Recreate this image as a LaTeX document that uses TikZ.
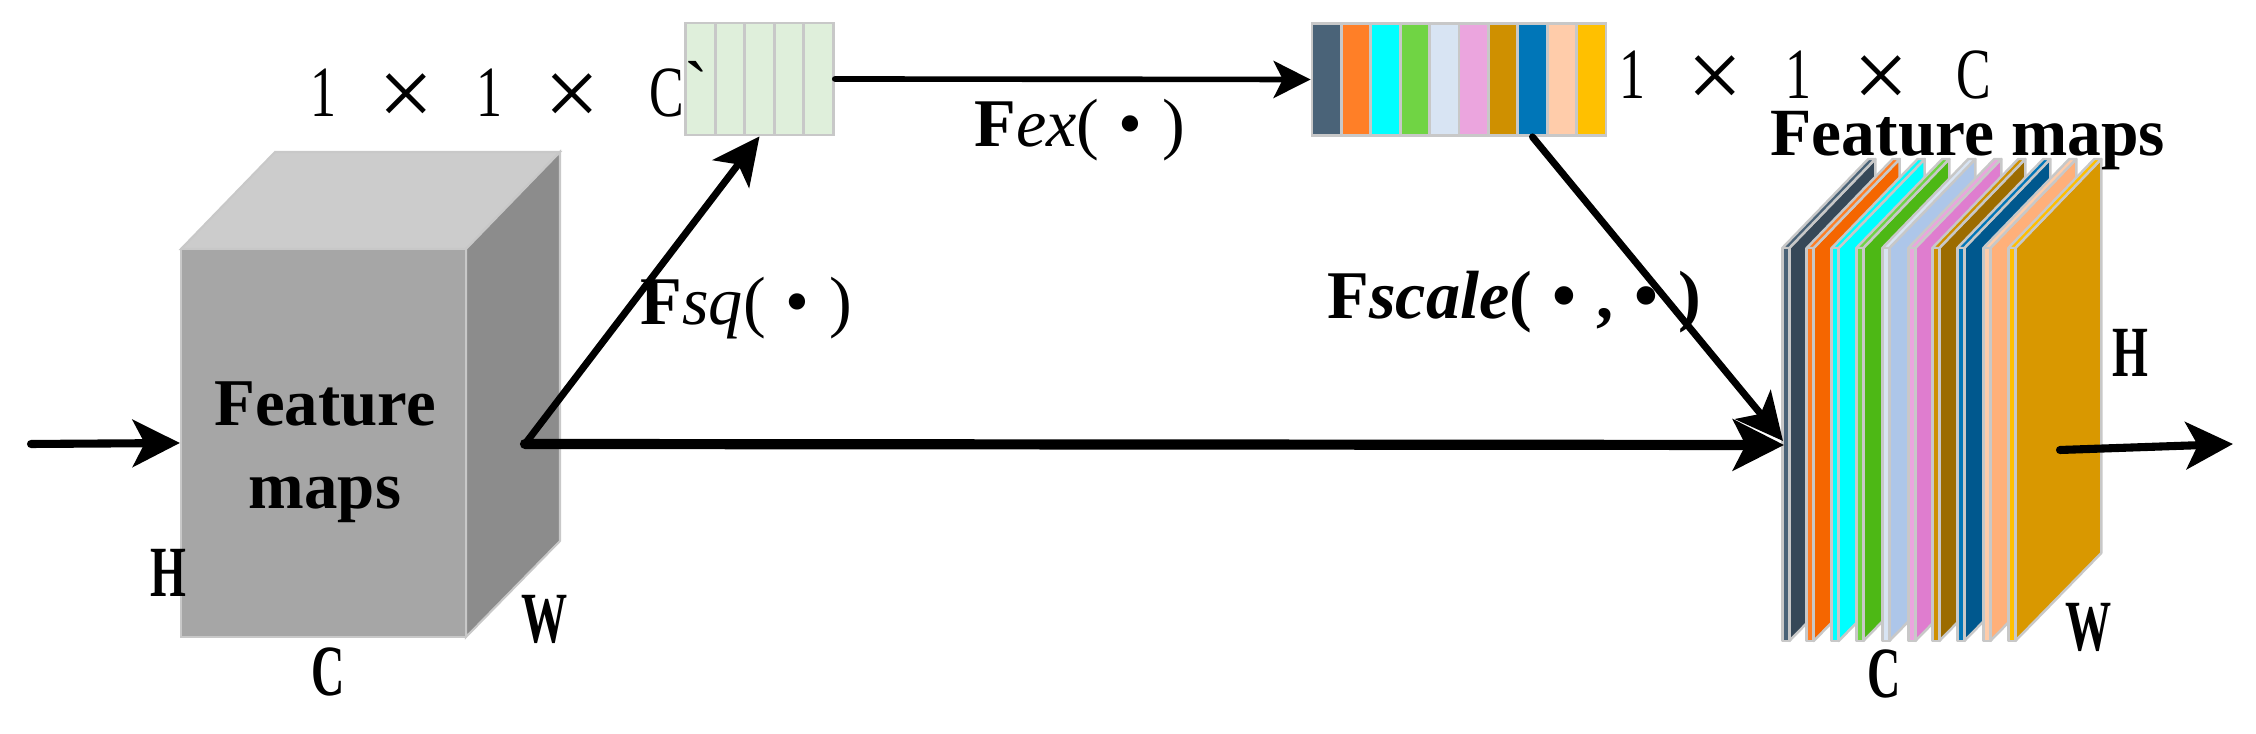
\documentclass[tikz,border=0pt]{standalone}
\usepackage{graphicx}
\usepackage{fontspec}
\setmainfont{Liberation Serif}
\newfontfamily\plainserif{Liberation Serif}
\usetikzlibrary{arrows.meta}

\definecolor{edgegray}{HTML}{C8C8C8}
\definecolor{cubetop}{HTML}{CCCCCC}
\definecolor{cubefront}{HTML}{A6A6A6}
\definecolor{cubeside}{HTML}{8C8C8C}
\definecolor{greencell}{HTML}{DFEFDB}
\definecolor{bar1}{HTML}{4A6378}
\definecolor{bar2}{HTML}{FF7F27}
\definecolor{bar3}{HTML}{00FFFF}
\definecolor{bar4}{HTML}{70D444}
\definecolor{bar5}{HTML}{D8E4F3}
\definecolor{bar6}{HTML}{EBA5DE}
\definecolor{bar7}{HTML}{CF9000}
\definecolor{bar8}{HTML}{0076B8}
\definecolor{bar9}{HTML}{FFCCAA}
\definecolor{bar10}{HTML}{FFC000}
\definecolor{face1}{HTML}{364858}
\definecolor{face2}{HTML}{F56600}
\definecolor{face3}{HTML}{00FFFF}
\definecolor{face4}{HTML}{4DB815}
\definecolor{face5}{HTML}{ADC6E9}
\definecolor{face6}{HTML}{DF7DCF}
\definecolor{face7}{HTML}{9C6C00}
\definecolor{face8}{HTML}{00588E}
\definecolor{face9}{HTML}{FFB07A}
\definecolor{face10}{HTML}{D99800}

\newcommand{\narrow}[1]{\scalebox{.72}[1]{#1}}
\newcommand{\narrowbold}[1]{\scalebox{.64}[1]{\bfseries #1}}
\newcommand{\crossgap}{\hspace{12pt}\smash{\raisebox{-2.8pt}{\fontsize{28}{28}\selectfont ×}}\hspace{12pt}}

\begin{document}
\begin{tikzpicture}[x=0.01cm,y=-0.01cm]
  \tikzset{cell/.style = {shape=rectangle,draw=edgegray,line width=0.8pt,inner sep=0pt,minimum height=1.12cm}}
  \tikzset{plateline/.style = {draw=edgegray,line width=0.7pt,line join=round}}
  \tikzset{thickarrow/.style = {line cap=round,line width=2.3pt,-{Stealth[length=13.4pt,width=13.4pt,inset=3.4pt]}}}
  \tikzset{slimarrow/.style = {line cap=round,line width=2pt,-{Stealth[length=13.4pt,width=13pt,inset=3.4pt]}}}
  \tikzset{thinarrow/.style = {line cap=round,line width=1.6pt,-{Stealth[length=10.5pt,width=10.5pt,inset=2.6pt]}}}
  \tikzset{mainarrow/.style = {line cap=round,line width=2.9pt,-{Stealth[length=14.5pt,width=14.5pt,inset=3.6pt]}}}
  \tikzset{dimlabel/.style = {inner sep=0pt,anchor=base west,font=\fontsize{20.5}{20.5}\selectfont}}
  \tikzset{funclabel/.style = {inner sep=0pt,anchor=base west,font=\fontsize{19.4}{19.4}\selectfont}}
  \tikzset{boldlabel/.style = {inner sep=0pt,font=\fontsize{19}{23.6}\selectfont\bfseries}}

  \useasboundingbox (0,0) rectangle (2256,734);

	\fill[cubetop,draw=edgegray,line width=0.6pt] (181,249) -- (275,152) -- (560,152) -- (466,249) -- cycle;
	\fill[cubeside,draw=edgegray,line width=0.6pt] (466,249) -- (560,152) -- (560,541) -- (466,637) -- cycle;
	\node[draw=edgegray,fill=cubefront,line width=0.6pt,inner sep=0pt,minimum width=2.85cm,minimum height=3.88cm] (cube) at (323.5,443) {};
	\node[boldlabel,align=center] (cubetext) at (325,452) {Feature\\maps};

	\node[dimlabel] (cubeh) at (150,597) {\narrowbold{H}};
	\node[dimlabel] (cubec) at (311,696) {\narrowbold{C}};
	\node[dimlabel] (cubew) at (521,643) {\narrowbold{W}};

	\foreach \i/\cx in {1/700.6,2/730,3/759.5,4/789,5/818.6}
	  \node[cell,fill=greencell,minimum width=0.295cm] (g\i) at (\cx,79) {};

	\foreach \i/\cx in {1/1326.7,2/1356.1,3/1385.5,4/1414.9,5/1444.3,6/1473.7,7/1503.1,8/1532.5,9/1561.9,10/1591.3}
	  \node[cell,fill=bar\i,minimum width=0.294cm] (b\i) at (\cx,79.5) {};

	\node[dimlabel] (leftsize) at (310,117) {\narrow{1}\crossgap\narrow{1}\crossgap\hspace{2pt}\narrow{C}\hspace{0pt}\raisebox{1.5pt}{\plainserif`}};
	\node[dimlabel] (rightsize) at (1619,99) {\narrow{1}\crossgap\narrow{1}\crossgap\hspace{1.5pt}\narrow{C}};

	\foreach \i/\px in {1/1782.3,2/1806.7,3/1831.7,4/1856.3,5/1882.3,6/1908.3,7/1932.3,8/1957.3,9/1983.3,10/2008.3}{
	  \fill[face\i,plateline] (\px+7,248) -- (\px+93,159) -- (\px+93,553) -- (\px+7,641) -- cycle;
	  \fill[bar\i,plateline] (\px,248) -- (\px+86,159) -- (\px+93,159) -- (\px+7,248) -- cycle;
	  \fill[bar\i,plateline] (\px,248) rectangle (\px+7,641);
	}

	\node[dimlabel] (plateh) at (2112,377) {\narrowbold{H}};
	\node[dimlabel] (platew) at (2065,651) {\narrowbold{W}};
	\node[dimlabel] (platec) at (1867,698) {\narrowbold{C}};
	\node[boldlabel,anchor=base west,font=\fontsize{19.2}{23}\selectfont\bfseries] (platetext) at (1770,156) {Feature maps};

	\node[funclabel] (fsq) at (640,325) {\textbf{F}\textit{sq}(\hspace{5.7pt}•\hspace{5.7pt})};
	\node[funclabel] (fex) at (974,147) {\textbf{F}\textit{ex}(\hspace{5.5pt}•\hspace{5.5pt})};
	\node[funclabel,font=\fontsize{19.4}{19.4}\selectfont\bfseries] (fscale) at (1327,319) {F\textit{scale}(\hspace{5.8pt}•\hspace{5.8pt},\hspace{5.8pt}•\hspace{5.8pt})};

	\coordinate (input) at (31,444);
	\coordinate (branch) at (525,444);
	\coordinate (merge) at (1784,445);
	\coordinate (scaleend) at (1783,441);
	\coordinate (outstart) at (2060,450);
	\coordinate (outend) at (2233,444);

    \foreach \from/\to/\kind in {input/cube.west/thickarrow,branch/g3.south/slimarrow,g5.east/b1.west/thinarrow,
    b8.south/scaleend/slimarrow,outstart/outend/thickarrow,branch/merge/mainarrow}
    \path[\kind,draw] (\from) -- (\to);

\end{tikzpicture}
\end{document}
